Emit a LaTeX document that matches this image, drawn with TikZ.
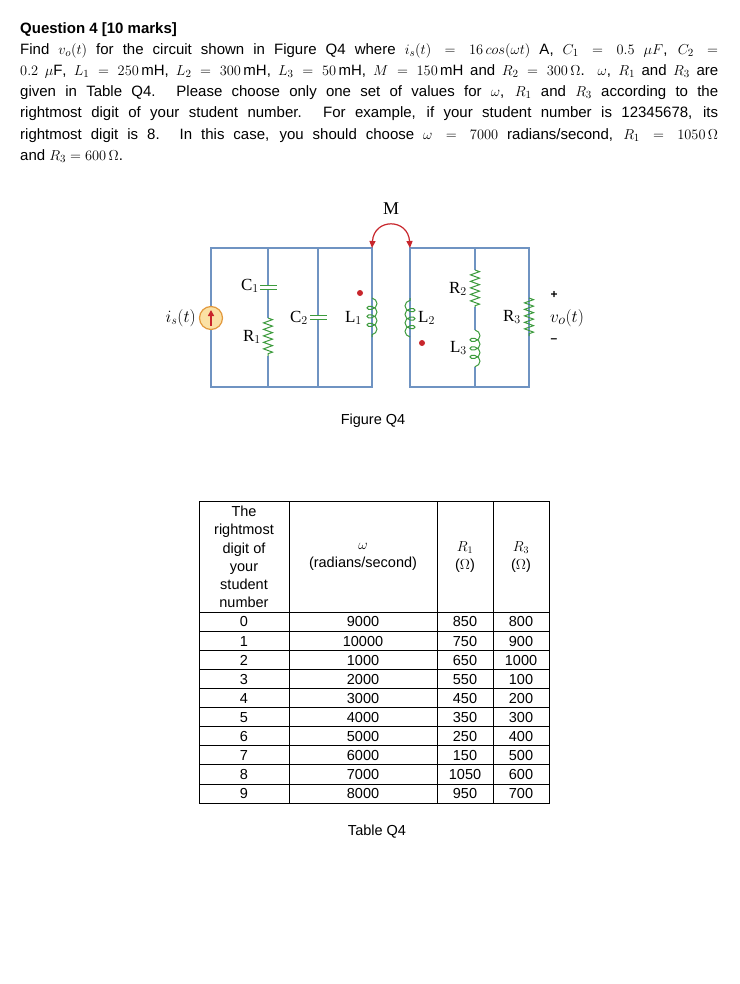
\documentclass[tikz,border=0pt]{standalone}
\usepackage{fontspec}
\setmainfont{Liberation Sans}
\newfontfamily\circfont{Liberation Serif}
\usetikzlibrary{arrows.meta,decorations.pathmorphing,positioning,calc}
\definecolor{wireblue}{HTML}{6F93C2}
\definecolor{partgreen}{HTML}{3C9B3C}
\definecolor{dotred}{HTML}{C8262C}
\definecolor{srcfill}{HTML}{FBE1A4}
\definecolor{srcdraw}{HTML}{E39A3E}
\tikzset{
  wire/.style  = { draw=wireblue, line width=1.1pt },
  res/.style   = { draw=partgreen, line width=1pt, decorate,
    decoration={zigzag, amplitude=4.5pt, segment length=6.5pt} },
  ind/.style   = { draw=partgreen, line width=1pt, decorate,
    decoration={coil, aspect=0.7, amplitude=5pt, segment length=8.5pt} },
  capplate/.style = { draw=partgreen, line width=1pt },
  lab/.style   = { font=\circfont\fontsize{17}{17}\selectfont, inner sep=1pt },
  pol/.style   = { dotred, circle, fill, inner sep=0pt, minimum size=6pt },
  cell/.style  = { font=\fontsize{14.5}{18.2}\selectfont, inner sep=0pt, align=center }
}
\begin{document}
\begin{tikzpicture}[x=1pt,y=-1pt]
  \useasboundingbox[fill=white] (0,0) rectangle (739,984);
  % question text
  \node[anchor=north west, text width=698pt, align=justify, inner sep=0pt,
        font=\fontsize{15}{21.2}\selectfont] (qtext) at (20,22) {%
    \textbf{Question 4 [10 marks]}\\
    Find $v_o(t)$ for the circuit shown in Figure Q4 where $i_s(t)=16\,cos(\omega t)$ A, $C_1=0.5\ \mu F$, $C_2=$\linebreak
    $0.2\ \mu\mathrm{F}$, $L_1=250\,\mathrm{mH}$, $L_2=300\,\mathrm{mH}$, $L_3=50\,\mathrm{mH}$, $M=150\,\mathrm{mH}$ and $R_2=300\,\Omega$. $\omega$, $R_1$ and $R_3$ are\linebreak
    given in Table Q4. Please choose only one set of values for $\omega$, $R_1$ and $R_3$ according to the\linebreak
    rightmost digit of your student number. For example, if your student number is 12345678, its\linebreak
    rightmost digit is 8. In this case, you should choose $\omega=7000$ radians/second, $R_1=1050\,\Omega$\linebreak
    and $R_3=600\,\Omega$.};

  % circuit nodes
  \foreach \n/\x in {a/211,b/268,c/318,d/372,e/410,f/475,g/529}{
    \coordinate (\n t) at (\x,248);
    \coordinate (\n b) at (\x,387);
  }
  \draw[wire] (at) -- (dt) -- (db) -- (ab) -- cycle;
  \draw[wire] (et) -- (gt) -- (gb) -- (eb) -- cycle;
  % source
  \node[circle, draw=srcdraw, fill=srcfill, line width=1.2pt, minimum size=23pt, inner sep=0pt] (src) at (211,318) {};
  \draw[dotred, line width=1.5pt, -{Triangle[length=6pt,width=6pt]}] ($(src)+(0,8)$) -- ($(src)+(0,-8)$);
  \node[lab, anchor=east] (islab) at (197,318) {$i_s(t)$};
  % C1 + R1 branch
  \draw[wire] (bt) -- (268,285.5) (268,289.5) -- (268,318) (268,356) -- (bb);
  \draw[capplate] (260,285.5) -- (277,285.5) (260,289.5) -- (277,289.5);
  \draw[res] (268,318) -- (268,356);
  \node[lab, anchor=east] (c1lab) at (260,286) {C$_1$};
  \node[lab, anchor=east] (r1lab) at (262,337) {R$_1$};
  % C2 branch
  \draw[wire] (ct) -- (318,315) (318,319) -- (cb);
  \draw[capplate] (310,315) -- (327,315) (310,319) -- (327,319);
  \node[lab, anchor=east] (c2lab) at (309,318) {C$_2$};
  % L1, L2
  \draw[wire] (dt) -- (372,298) (372,337) -- (db);
  \draw[ind] (372,298) -- (372,337);
  \draw[wire] (et) -- (410,298) (410,337) -- (eb);
  \draw[ind] (410,337) -- (410,298);
  \node[pol] (dot1) at (360,293) {};
  \node[pol] (dot2) at (422,343) {};
  \node[lab, anchor=east] (l1lab) at (363,318) {L$_1$};
  \node[lab, anchor=west] (l2lab) at (417,318) {L$_2$};
  % mutual inductance
  \draw[dotred, line width=1.2pt, {Triangle[length=7pt,width=6pt]}-{Triangle[length=7pt,width=6pt]}]
    (dt) .. controls (374,218) and (408,218) .. (et);
  \node[lab, font=\circfont\fontsize{18}{18}\selectfont] (mlab) at (391,209) {M};
  % R2 + L3 branch
  \draw[wire] (ft) -- (475,270) (475,307) -- (475,330) (475,367) -- (fb);
  \draw[res] (475,270) -- (475,307);
  \draw[ind] (475,330) -- (475,367);
  \node[lab, anchor=east] (r2lab) at (468,289) {R$_2$};
  \node[lab, anchor=east] (l3lab) at (468,348) {L$_3$};
  % R3 + output
  \draw[wire] (gt) -- (529,298) (529,336) -- (gb);
  \draw[res] (529,298) -- (529,336);
  \node[lab, anchor=east] (r3lab) at (522,317) {R$_3$};
  \node[lab, font=\fontsize{19}{19}\selectfont] (vout) at (567,318) {$v_o(t)$};
  \node[font=\bfseries\fontsize{12}{12}\selectfont] (plus) at (554,295) {+};
  \node[font=\bfseries\fontsize{12}{12}\selectfont] (minus) at (554,341) {--};
  \node[font=\fontsize{14.5}{16}\selectfont] (figcap) at (373,421) {Figure Q4};

  % table
  \draw[line width=0.8pt] (199,501) rectangle (549,803);
  \foreach \x in {289,437,493}{ \draw[line width=0.8pt] (\x,501) -- (\x,803); }
  \draw[line width=0.8pt] (199,612) -- (549,612);
  \foreach \i in {1,...,9}{ \draw[line width=0.8pt] (199,612+19.1*\i) -- (549,612+19.1*\i); }
  \node[cell] (h1) at (244,557) {The\\rightmost\\digit of\\your\\student\\number};
  \node[cell] (h2) at (363,557) {$\omega$\\(radians/second)};
  \node[cell] (h3) at (465,557) {$R_1$\\($\Omega$)};
  \node[cell] (h4) at (521,557) {$R_3$\\($\Omega$)};
  \foreach \d/\w/\ra/\rb [count=\i from 0] in {0/9000/850/800, 1/10000/750/900, 2/1000/650/1000,
      3/2000/550/100, 4/3000/450/200, 5/4000/350/300, 6/5000/250/400, 7/6000/150/500,
      8/7000/1050/600, 9/8000/950/700}{
    \node[cell] (d\i) at (244,622+19.1*\i) {\d};
    \node[cell] (w\i) at (363,622+19.1*\i) {\w};
    \node[cell] (ra\i) at (465,622+19.1*\i) {\ra};
    \node[cell] (rb\i) at (521,622+19.1*\i) {\rb};
  }
  \node[font=\fontsize{14.5}{16}\selectfont] (tabcap) at (377,832) {Table Q4};
\end{tikzpicture}
\end{document}
